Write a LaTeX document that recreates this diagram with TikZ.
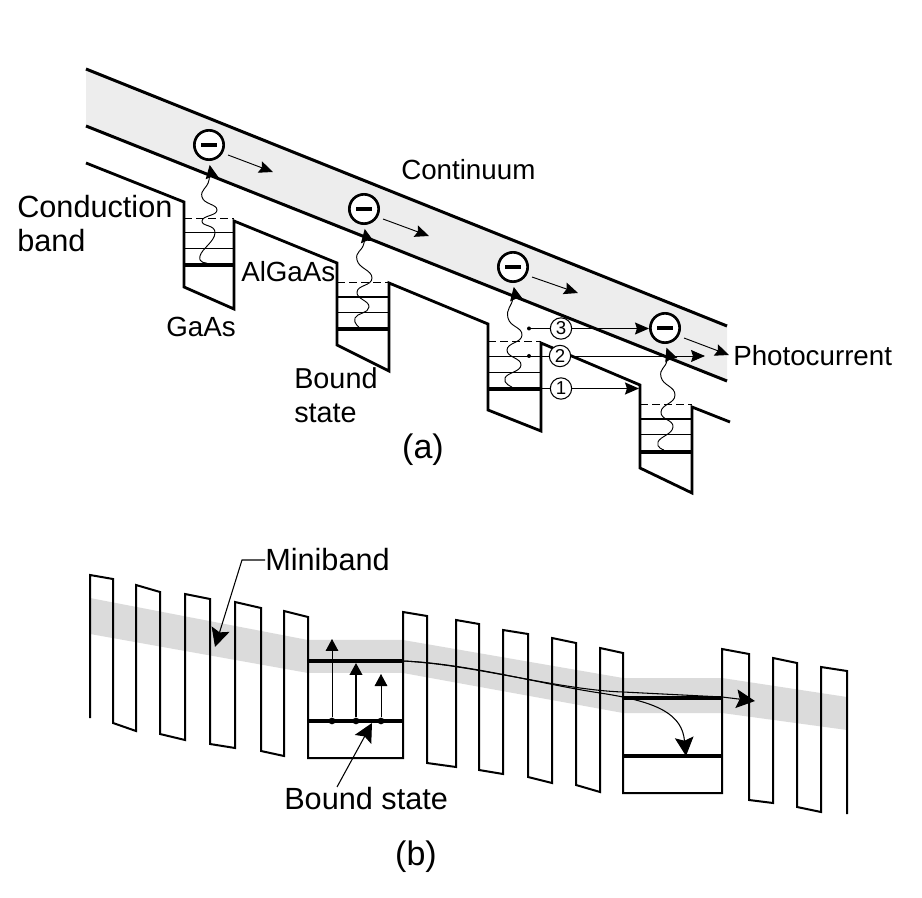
\documentclass[tikz,border=0pt]{standalone}
\usepackage{fontspec}
\setmainfont{Liberation Sans}
\usetikzlibrary{arrows.meta}

\begin{document}
\begin{tikzpicture}[
    x=0.75pt, y=-0.75pt,
    label30/.style={inner sep=0pt, anchor=base west, align=left, font=\fontsize{23}{26}\selectfont},
    label28/.style={inner sep=0pt, anchor=base west, align=left, font=\fontsize{20.8}{25.5}\selectfont},
    caption/.style={inner sep=0pt, font=\fontsize{25.5}{30}\selectfont},
    band/.style={line width=2.25pt},
    wall/.style={line width=2.1pt, line join=miter},
    barrier/.style={line width=1.5pt, line join=miter},
    thinlevel/.style={line width=0.7pt},
    midlevel/.style={line width=1.2pt},
    thicklevel/.style={line width=2.6pt},
    toplevel/.style={line width=0.7pt, dash pattern=on 6pt off 3pt},
    electron/.style={circle, draw, fill=white, line width=2pt, minimum size=22pt, inner sep=0pt},
    number/.style={circle, draw, fill=white, line width=0.8pt, minimum size=16pt, inner sep=0pt, font=\fontsize{14}{14}\selectfont},
    dot/.style={circle, fill=black, minimum size=3pt, inner sep=0pt},
    bigdot/.style={circle, fill=black, minimum size=5pt, inner sep=0pt},
    smalltip/.style={-{Stealth[length=10.5pt, width=9pt, inset=1.5pt]}},
    uptip/.style={-{Stealth[length=9pt, width=9.5pt, inset=0pt]}},
    bigtip/.style={-{Stealth[length=14pt, width=14pt, inset=2.5pt]}},
    photon/.style={line width=0.7pt, -{Stealth[length=10pt, width=9.5pt, inset=1pt]}, shorten >=3pt}
]
\useasboundingbox (0,0) rectangle (922,898);

% Continuum
\fill[black!7] (86,69) -- (727,326) -- (727,381) -- (86,126) -- cycle;
\draw[band] (86,69) -- (727,326);
\draw[band] (86,126) -- (727,381);

% Quantum wells
\draw[wall] (86,163) -- (184,202) -- (184,287) -- (234,309) -- (234,221)
    -- (337,263) -- (337,345) -- (389,371) -- (389,283)
    -- (488,324) -- (488,410) -- (541,431) -- (541,343)
    -- (640,385) -- (640,468) -- (692,493) -- (692,407) -- (730,422);

% Levels
\draw[toplevel] (184,218) -- (234,218);
\draw[thinlevel] (184,232) -- (234,232);
\draw[thinlevel] (184,248) -- (234,248);
\draw[thicklevel] (184,265) -- (234,265);
\draw[toplevel] (337,282) -- (389,282);
\draw[midlevel] (337,297) -- (389,297);
\draw[thinlevel] (337,312) -- (389,312);
\draw[thicklevel] (337,329) -- (389,329);
\draw[toplevel] (488,341) -- (541,341);
\draw[thinlevel] (488,356) -- (541,356);
\draw[thinlevel] (488,372) -- (541,372);
\draw[thicklevel] (488,389) -- (541,389);
\draw[toplevel] (640,404) -- (692,404);
\draw[midlevel] (640,419) -- (692,419);
\draw[thinlevel] (640,434) -- (692,434);
\draw[thicklevel] (640,452) -- (692,452);

% Electrons
\node[electron] (e1) at (209,145) {\rule{12pt}{3.6pt}};
\node[electron] (e2) at (364,209) {\rule{12pt}{3.6pt}};
\node[electron] (e3) at (513,267) {\rule{12pt}{3.6pt}};
\node[electron] (e4) at (665,328) {\rule{12pt}{3.6pt}};
\coordinate (d1) at (273,172);
\coordinate (d2) at (429,236);
\coordinate (d3) at (578,293);
\coordinate (d4) at (729,355);
\foreach \n in {1,2,3,4}
    \draw[smalltip, line width=0.7pt] (e\n) ++(19,10) -- (d\n);

% Absorption
\draw[photon] plot[smooth, tension=0.9] coordinates {(207,263) (200,256) (215,233) (202,221) (217,210) (202,197) (209,180) (e1.south)};
\draw[photon] plot[smooth, tension=0.9] coordinates {(360,328) (355,318) (369,307) (357,292) (372,278) (357,260) (364,243) (e2.south)};
\draw[photon] plot[smooth, tension=0.9] coordinates {(512,387) (505,378) (521,365) (507,350) (522,335) (508,318) (513,298) (e3.south)};
\draw[photon] plot[smooth, tension=0.9] coordinates {(664,450) (658,442) (673,427) (661,412) (675,395) (661,377) (667,360) (e4.south)};

% Escape paths
\node[dot] (s3) at (529,328.5) {};
\node[dot] (s2) at (529,356) {};
\coordinate (s1) at (541,388.5);
\node[number] (n3) at (561,328.5) {3};
\node[number] (n2) at (560,356) {2};
\node[number] (n1) at (561,388.5) {1};
\coordinate (t2) at (705,356);
\coordinate (t1) at (639,388.5);
\draw[line width=0.7pt] (s3) -- (n3);
\draw[line width=0.7pt] (s2) -- (n2);
\draw[line width=0.7pt] (s1) -- (n1);
\draw[smalltip, line width=0.7pt] (n3) -- (n3 -| e4.west);
\draw[smalltip, line width=0.7pt] (n2) -- (t2);
\draw[smalltip, line width=1.2pt] (n1) -- (t1);

% Labels of (a)
\node[label28] (continuum) at (401,180) {Continuum};
\node[label30] (conduction) at (17,252) {Conduction\\band};
\node[label28] (gaas) at (166,337) {GaAs};
\node[label28] (algaas) at (241,282) {AlGaAs};
\node[label28, font=\fontsize{21.6}{25.5}\selectfont] (bound) at (294,423) {Bound\\state};
\node[label28] (photocurrent) at (733,366) {Photocurrent};
\node[caption] (a) at (423,450) {(a)};

% Miniband
\fill[black!14] (90,598) -- (308,640) -- (403,640) -- (623,678) -- (722,678) -- (847,697)
    -- (847,730) -- (722,713) -- (623,713) -- (403,673) -- (308,673) -- (90,634) -- cycle;

% Superlattice
\draw[barrier] (90,718) -- (90,575) -- (113,579) -- (113,723) -- (136,731) -- (136,585)
    -- (160,592) -- (160,734) -- (185,740) -- (185,594) -- (210,599) -- (210,744)
    -- (235,748) -- (235,602) -- (261,608) -- (261,751) -- (284,756) -- (284,611)
    -- (308,617) -- (308,758) -- (403,758) -- (403,612) -- (427,616) -- (427,763)
    -- (456,767) -- (456,620) -- (479,624) -- (479,770) -- (503,774) -- (503,630)
    -- (528,634) -- (528,777) -- (552,783) -- (552,638) -- (576,643) -- (576,785)
    -- (600,792) -- (600,648) -- (623,653) -- (623,793) -- (722,793) -- (722,649)
    -- (749,654) -- (749,800) -- (773,803) -- (773,658) -- (797,663) -- (797,807)
    -- (821,812) -- (821,667) -- (847,671) -- (847,814);
\draw[thicklevel] (308,661) -- (403,661);
\draw[thicklevel] (308,721) -- (403,721);
\draw[thicklevel] (623,698) -- (722,698);
\draw[thicklevel] (623,756) -- (722,756);

% Excitation
\node[bigdot] (b1) at (332,721) {};
\node[bigdot] (b2) at (356,721) {};
\node[bigdot] (b3) at (381,721) {};
\coordinate (u1) at (332,639);
\coordinate (u2) at (356,663);
\coordinate (u3) at (381,674);
\draw[uptip, line width=0.7pt] (b1) -- (u1);
\draw[uptip, line width=1.3pt] (b2) -- (u2);
\draw[uptip, line width=0.7pt] (b3) -- (u3);

% Transport
\coordinate (w1) at (403,661);
\coordinate (w2) at (755,701);
\coordinate (w3) at (686,756);
\draw[bigtip, line width=0.8pt] (w1) .. controls (470,664) and (560,690) .. (623,692) -- (722,697) -- (w2);
\draw[bigtip, line width=0.8pt] (w1) .. controls (470,664) and (540,684) .. (600,693)
    .. controls (660,702) and (682,715) .. (w3);

% Labels of (b)
\node[label30] (miniband) at (265,571) {Miniband};
\node[label30] (boundb) at (284,809) {Bound state};
\node[caption] (b) at (416,857) {(b)};
\coordinate (m1) at (242,560);
\draw[bigtip, line width=0.8pt] (miniband.west |- m1) -- (m1) -- (215,647);
\coordinate (m2) at (372,723);
\coordinate (m3) at (337,787);
\draw[bigtip, line width=0.8pt] (m3) -- (m2);

\end{tikzpicture}
\end{document}
